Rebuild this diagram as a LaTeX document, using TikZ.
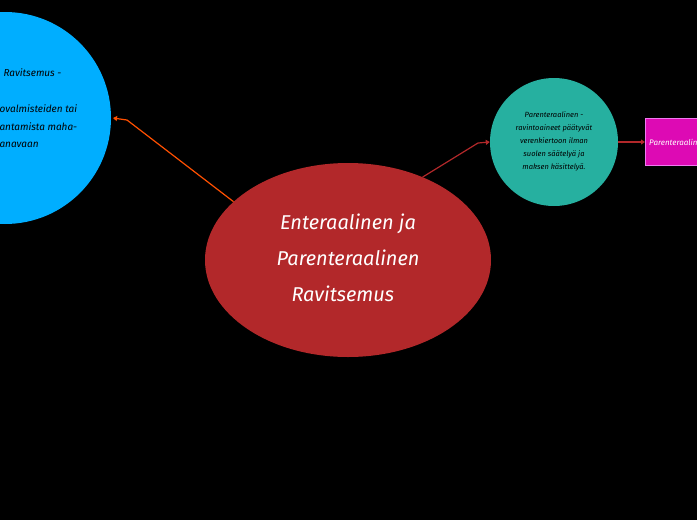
\documentclass[tikz,border=0pt]{standalone}
\usepackage{fontspec}
\setmainfont{Fira Sans}
\usetikzlibrary{arrows.meta,shapes.geometric}
\begin{document}
\begin{tikzpicture}[x=1pt,y=-1pt,
  small/.style={font=\itshape\fontsize{7.5}{13}\selectfont,align=center,text=black},
  lefttext/.style={font=\itshape\fontsize{10}{18}\selectfont,text=black,anchor=west},
  conn/.style={line width=1.2pt,-{Triangle[width=5pt,length=4pt]}}]
\fill[black] (0,0) rectangle (697,520);
\useasboundingbox (0,0) rectangle (697,520);
\begin{scope}
\clip (0,0) rectangle (697,520);
\fill[fill={rgb,255:red,0;green,174;blue,255}] (5,118) circle (106);
\node[lefttext] (l1) at (0,73) {Ravitsemus -};
\node[lefttext] (l2) at (-4,109) {ovalmisteiden tai};
\node[lefttext] (l3) at (-4,127) {antamista maha-};
\node[lefttext] (l4) at (-4,145) {anavaan};
\node[draw={rgb,255:red,240;green,120;blue,240},fill={rgb,255:red,221;green,10;blue,180},minimum width=70,minimum height=47,anchor=west,font=\itshape\fontsize{8}{10}\selectfont,text=white,align=left,inner xsep=4pt] (m) at (645,142) {Parenteraalinen\hspace{2cm}};
\end{scope}
\coordinate (lc) at (113,118);
\node[ellipse,minimum width=286,minimum height=194,fill={rgb,255:red,178;green,40;blue,42},inner sep=0] (c) at (348,260) {};
\node[text=white,font=\itshape\fontsize{20}{36}\selectfont,align=center] at (348,258) {Enteraalinen ja\\Parenteraalinen\\Ravitsemus\ \ \ };
\node[circle,minimum size=128,fill={rgb,255:red,38;green,176;blue,160},inner sep=0] (t) at (554,142) {};
\node[small] at (554,141) {Parenteraalinen -\\ravintoaineet päätyvät\\verenkiertoon ilman\\suolen säätelyä ja\\maksen käsittelyä.};
\draw[conn,draw={rgb,255:red,255;green,80;blue,0}] (c.153) -- (127,120) -- (lc);
\draw[conn,draw={rgb,255:red,178;green,40;blue,42}] (c.48) -- (478,143) -- (t.west);
\draw[conn,draw={rgb,255:red,178;green,40;blue,42}] (t.east) -- (m.west);
\end{tikzpicture}
\end{document}
